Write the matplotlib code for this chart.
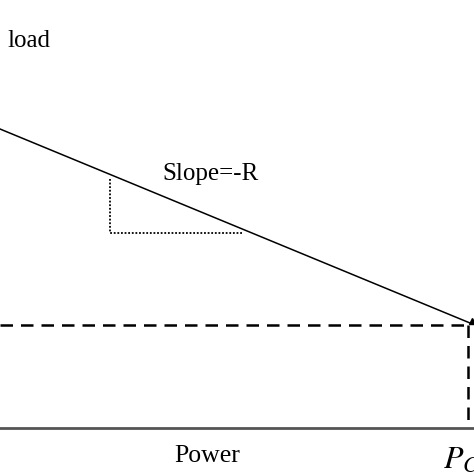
import matplotlib
matplotlib.use("Agg")
import matplotlib.pyplot as plt

plt.rcParams['font.family'] = ['Liberation Serif', 'DejaVu Serif']
plt.rcParams['mathtext.fontset'] = 'stix'

# droop line (power, frequency) in picture units, y up
droop_p = [0, 470]
droop_f = [345, 151]
# operating point
op_p = 468
op_f = 149
# power axis level
axis_f = 46
# slope triangle
tri_p = [110, 110, 243]
tri_f = [295, 241, 241]

fig = plt.figure(figsize=(4.74, 4.74), dpi=100)
ax = fig.add_axes([0, 0, 1, 1])
ax.set_xlim(0, 474)
ax.set_ylim(0, 474)
ax.axis('off')

ax.plot(droop_p, droop_f, color='black', lw=1.1)
ax.plot(tri_p, tri_f, color='black', lw=1.3, ls=(0, (1, 1)))
ax.plot([0, op_p], [op_f, op_f], color='black', lw=1.8, ls=(0, (5, 3.2)))
ax.plot([op_p, op_p], [op_f, axis_f], color='black', lw=1.8, ls=(0, (5, 3.2)))
ax.plot([0, 474], [axis_f, axis_f], color='#555555', lw=2)
ax.plot([droop_p[1] + 2], [droop_f[1] + 2], marker='^', color='black', ms=4)

ax.text(7, 433, 'load', fontsize=18, va='center', ha='left')
ax.text(162, 300, 'Slope=-R', fontsize=18, va='center', ha='left')
ax.text(207, 18, 'Power', fontsize=18.5, va='center', ha='center')
ax.text(443, 14, '$P_C$', fontsize=23, va='center', ha='left')

fig.savefig('out.png', dpi=100)
